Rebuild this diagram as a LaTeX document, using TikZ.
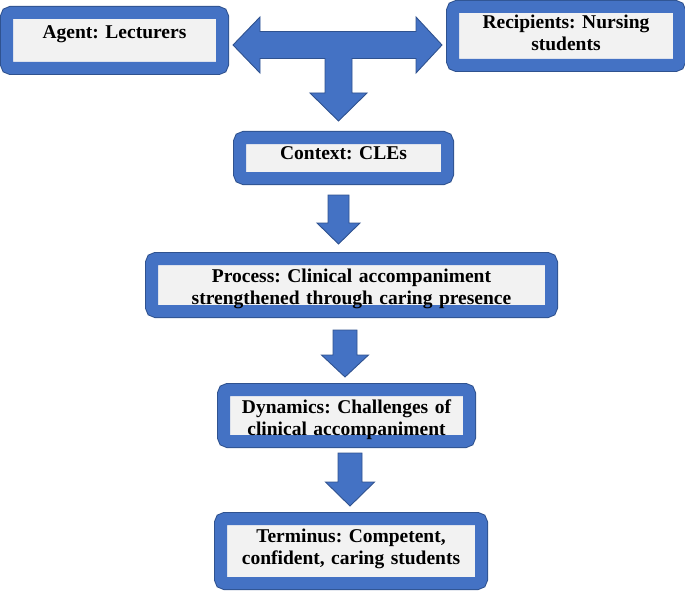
\documentclass[tikz,border=0pt]{standalone}
\usepackage{fontspec}
\setmainfont{Liberation Serif}
\usepackage{tikz}
\usetikzlibrary{calc}
\frenchspacing
\definecolor{boxblue}{HTML}{4472C4}
\definecolor{edgeblue}{HTML}{2F528F}
\definecolor{innergray}{HTML}{F2F2F2}
\tikzstyle{card} = [rectangle, fill=innergray, draw=boxblue, line width=12pt,
  rounded corners=4pt, preaction={draw=edgeblue, line width=14pt},
  inner sep=0pt, align=center, text=black, font=\bfseries\fontsize{19.5}{22}\selectfont]
\tikzstyle{blockarrow} = [fill=boxblue, draw=edgeblue, line width=0.9pt, line join=miter]
\newcommand{\blockdown}[5]{%
  \draw[blockarrow] ($(#1)+(-#3,0)$) -- ($(#1)+(#3,0)$) -- ($(#2)+(#3,-#5)$)
    -- ($(#2)+(#4,-#5)$) -- (#2) -- ($(#2)+(-#4,-#5)$) -- ($(#2)+(-#3,-#5)$) -- cycle;}

\begin{document}
\begin{tikzpicture}[x=1pt, y=-1pt]
    \useasboundingbox (0,0) rectangle (685,591);
    \node[card, text width=215pt, text height=26pt, text depth=29pt] (agent) at (114.5,40.5) {Agent: Lecturers};
    \node[card, text width=226pt, text height=22pt, text depth=36pt] (recip) at (566,36) {Recipients: Nursing\\students};
    \node[card, text width=207pt, text height=22pt, text depth=18pt] (ctx) at (343.5,158) {Context: CLEs};
    \node[card, text width=399pt, text height=23pt, text depth=29pt] (proc) at (351.5,285) {Process: Clinical accompaniment\\strengthened through caring presence};
    \node[card, text width=245pt, text height=23pt, text depth=28pt] (dyn) at (346.5,415.5) {Dynamics: Challenges of\\clinical accompaniment};
    \node[card, text width=260pt, text height=23pt, text depth=41pt] (term) at (351,551) {Terminus: Competent,\\confident, caring students};
    % T-shaped arrow between agent, recipients and context
    \coordinate (hub) at (338.5,45);
    \coordinate (tl) at ($(agent.east |- hub)+(5,0)$);
    \coordinate (tr) at ($(recip.west |- hub)+(-5,0)$);
    \coordinate (td) at ($(ctx.north -| hub)+(0,-11)$);
    \draw[blockarrow] (tl) -- ++(27,-28) -- ++(0,14.5)
      -- ($(tr)+(-26,-13.5)$) -- ++(0,-14.5) -- (tr) -- ++(-26,28) -- ++(0,-14.5)
      -- ($(hub)+(13.5,13.5)$) -- ($(td)+(13.5,-28)$) -- ($(td)+(28.5,-28)$) -- (td)
      -- ($(td)+(-28.5,-28)$) -- ($(td)+(-13.5,-28)$) -- ($(hub)+(-13.5,13.5)$)
      -- ($(tl)+(27,13.5)$) -- ++(0,14.5) -- cycle;
    % down arrows
    \coordinate (s2) at ($(ctx.south)+(-5,11)$);
    \coordinate (t2) at ($(proc.north -| s2)+(0,-9)$);
    \blockdown{s2}{t2}{10.5}{21.5}{21}
    \coordinate (s3) at ($(proc.south)+(-6.5,13)$);
    \coordinate (t3) at ($(dyn.north -| s3)+(0,-7)$);
    \blockdown{s3}{t3}{12}{23.5}{22}
    \coordinate (s4) at ($(dyn.south)+(3.5,6)$);
    \coordinate (t4) at ($(term.north -| s4)+(0,-7)$);
    \blockdown{s4}{t4}{12}{24.5}{24}
  \end{tikzpicture}
\end{document}
